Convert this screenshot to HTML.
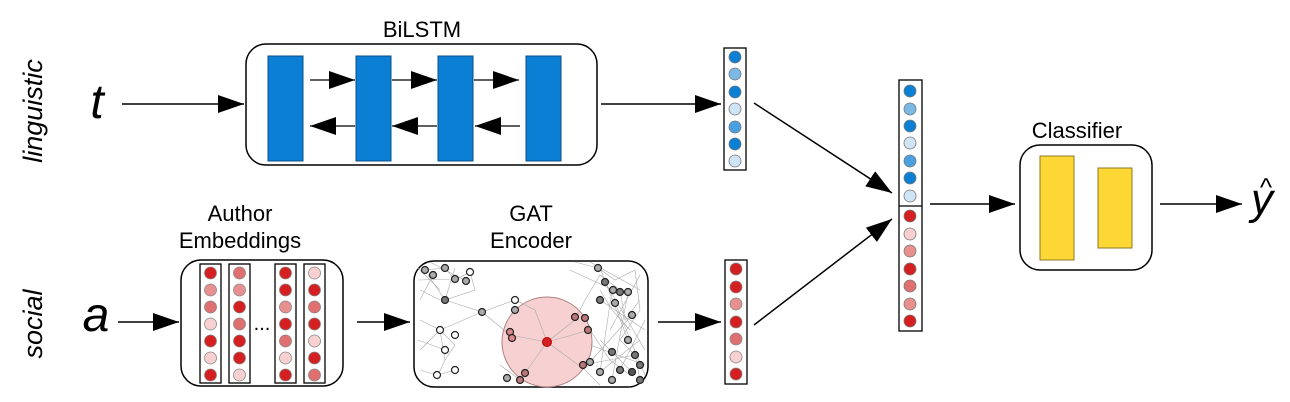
<!DOCTYPE html>
<html><head><meta charset="utf-8"><style>
html,body{margin:0;padding:0;background:#fff}
svg{display:block}
text{font-family:"Liberation Sans",sans-serif}
</style></head><body>
<svg width="1290" height="402" viewBox="0 0 1290 402" xmlns="http://www.w3.org/2000/svg">
<defs>
<marker id="ahb" markerWidth="26" markerHeight="18" refX="26" refY="9" orient="auto" markerUnits="userSpaceOnUse" viewBox="0 0 26 18">
<path d="M0,0 L26,9 L0,18 z" fill="#000"/></marker>
</defs>

<text transform="translate(42,111) rotate(-90)" text-anchor="middle" font-size="27" font-style="italic">linguistic</text>
<text transform="translate(42,324) rotate(-90)" text-anchor="middle" font-size="27" font-style="italic">social</text>
<text x="97" y="118" text-anchor="middle" font-family="Liberation Serif" font-style="italic" font-size="48">t</text>
<text x="96" y="331" text-anchor="middle" font-family="Liberation Serif" font-style="italic" font-size="48">a</text>

<g stroke="#000" stroke-width="1.5" fill="none">
<line x1="122" y1="104" x2="244" y2="104" marker-end="url(#ahb)"/>
<line x1="118" y1="322" x2="179" y2="322" marker-end="url(#ahb)"/>
<line x1="357" y1="322" x2="410" y2="322" marker-end="url(#ahb)"/>
<line x1="601" y1="104" x2="721" y2="104" marker-end="url(#ahb)"/>
<line x1="658" y1="322" x2="721" y2="322" marker-end="url(#ahb)"/>
<line x1="754" y1="103" x2="892" y2="193" marker-end="url(#ahb)"/>
<line x1="754" y1="325" x2="892" y2="219" marker-end="url(#ahb)"/>
<line x1="930" y1="204" x2="1015" y2="204" marker-end="url(#ahb)"/>
<line x1="1160" y1="204" x2="1242" y2="204" marker-end="url(#ahb)"/>
</g>

<text x="422" y="37" text-anchor="middle" font-size="22">BiLSTM</text>
<rect x="246" y="44" width="351" height="121" rx="20" fill="#fff" stroke="#000" stroke-width="1.5"/>
<g fill="#0a7fd4" stroke="#0a4f8a" stroke-width="1">
<rect x="268" y="56" width="35" height="105"/>
<rect x="356" y="56" width="35" height="105"/>
<rect x="438" y="56" width="35" height="105"/>
<rect x="526" y="56" width="35" height="105"/>
</g>
<g stroke="#000" stroke-width="1.3">
<line x1="310" y1="80" x2="355" y2="80" marker-end="url(#ahb)"/>
<line x1="392" y1="80" x2="437" y2="80" marker-end="url(#ahb)"/>
<line x1="474" y1="80" x2="519" y2="80" marker-end="url(#ahb)"/>
<line x1="355" y1="126" x2="310" y2="126" marker-end="url(#ahb)"/>
<line x1="437" y1="126" x2="392" y2="126" marker-end="url(#ahb)"/>
<line x1="520" y1="126" x2="475" y2="126" marker-end="url(#ahb)"/>
</g>

<rect x="724" y="48" width="22" height="122" fill="#fff" stroke="#000" stroke-width="1.3"/>
<g stroke="#777" stroke-width="0.8">
<circle cx="735" cy="57" r="6" fill="#0a7fd4"/>
<circle cx="735" cy="74" r="6" fill="#7ab8e6"/>
<circle cx="735" cy="92" r="6" fill="#0a7fd4"/>
<circle cx="735" cy="109" r="6" fill="#cfe5f6"/>
<circle cx="735" cy="127" r="6" fill="#4a9fe0"/>
<circle cx="735" cy="144" r="6" fill="#0a7fd4"/>
<circle cx="735" cy="161" r="6" fill="#cfe5f6"/>
</g>

<rect x="725" y="260" width="22" height="124" fill="#fff" stroke="#000" stroke-width="1.3"/>
<g stroke="#888" stroke-width="0.8">
<circle cx="736" cy="269" r="6" fill="#d42020"/>
<circle cx="736" cy="287" r="6" fill="#d42020"/>
<circle cx="736" cy="304" r="6" fill="#e89090"/>
<circle cx="736" cy="322" r="6" fill="#d42020"/>
<circle cx="736" cy="339" r="6" fill="#e07070"/>
<circle cx="736" cy="357" r="6" fill="#f8d0d0"/>
<circle cx="736" cy="374" r="6" fill="#d42020"/>
</g>

<rect x="899" y="80" width="23" height="251" fill="#fff" stroke="#000" stroke-width="1.3"/>
<line x1="899" y1="206" x2="922" y2="206" stroke="#000" stroke-width="1.3"/>
<g stroke="#777" stroke-width="0.8">
<circle cx="910" cy="91" r="6" fill="#0a7fd4"/>
<circle cx="910" cy="109" r="6" fill="#7ab8e6"/>
<circle cx="910" cy="126" r="6" fill="#0a7fd4"/>
<circle cx="910" cy="143" r="6" fill="#cfe5f6"/>
<circle cx="910" cy="161" r="6" fill="#4a9fe0"/>
<circle cx="910" cy="178" r="6" fill="#0a7fd4"/>
<circle cx="910" cy="196" r="6" fill="#cfe5f6"/>
<circle cx="910" cy="216" r="6" fill="#d42020"/>
<circle cx="910" cy="234" r="6" fill="#f8d0d0"/>
<circle cx="910" cy="251" r="6" fill="#e89090"/>
<circle cx="910" cy="269" r="6" fill="#d42020"/>
<circle cx="910" cy="286" r="6" fill="#e07070"/>
<circle cx="910" cy="304" r="6" fill="#e89090"/>
<circle cx="910" cy="321" r="6" fill="#d42020"/>
</g>

<text x="1077" y="138" text-anchor="middle" font-size="22">Classifier</text>
<rect x="1020" y="145" width="132" height="125" rx="20" fill="#fff" stroke="#000" stroke-width="1.5"/>
<rect x="1040" y="156" width="34" height="104" fill="#fdd835" stroke="#8a7a20" stroke-width="1"/>
<rect x="1098" y="168" width="34" height="80" fill="#fdd835" stroke="#8a7a20" stroke-width="1"/>
<text x="1262" y="214" text-anchor="middle" font-family="Liberation Serif" font-style="italic" font-size="44">y</text>
<text x="1266" y="196" text-anchor="middle" font-family="Liberation Serif" font-size="26">^</text>

<text x="240" y="221" text-anchor="middle" font-size="22">Author</text>
<text x="240" y="248" text-anchor="middle" font-size="22">Embeddings</text>
<rect x="181" y="260" width="162" height="126" rx="20" fill="#fff" stroke="#000" stroke-width="1.5"/>
<g fill="none" stroke="#000" stroke-width="1.3">
<rect x="200" y="264" width="21" height="119"/>
<rect x="229" y="264" width="21" height="119"/>
<rect x="275" y="264" width="21" height="119"/>
<rect x="304" y="264" width="21" height="119"/>
</g>
<g stroke="#888" stroke-width="0.8">
<circle cx="210.5" cy="273" r="6" fill="#d42020"/><circle cx="210.5" cy="290" r="6" fill="#e89090"/><circle cx="210.5" cy="307" r="6" fill="#e07070"/><circle cx="210.5" cy="324" r="6" fill="#f8d0d0"/><circle cx="210.5" cy="341" r="6" fill="#d42020"/><circle cx="210.5" cy="358" r="6" fill="#f8d0d0"/><circle cx="210.5" cy="375" r="6" fill="#d42020"/>
<circle cx="239.5" cy="273" r="6" fill="#e07070"/><circle cx="239.5" cy="290" r="6" fill="#e89090"/><circle cx="239.5" cy="307" r="6" fill="#d42020"/><circle cx="239.5" cy="324" r="6" fill="#e07070"/><circle cx="239.5" cy="341" r="6" fill="#d42020"/><circle cx="239.5" cy="358" r="6" fill="#d42020"/><circle cx="239.5" cy="375" r="6" fill="#f8d0d0"/>
<circle cx="285.5" cy="273" r="6" fill="#d42020"/><circle cx="285.5" cy="290" r="6" fill="#d42020"/><circle cx="285.5" cy="307" r="6" fill="#e89090"/><circle cx="285.5" cy="324" r="6" fill="#d42020"/><circle cx="285.5" cy="341" r="6" fill="#e07070"/><circle cx="285.5" cy="358" r="6" fill="#f8d0d0"/><circle cx="285.5" cy="375" r="6" fill="#d42020"/>
<circle cx="314.5" cy="273" r="6" fill="#f8d0d0"/><circle cx="314.5" cy="290" r="6" fill="#d42020"/><circle cx="314.5" cy="307" r="6" fill="#e07070"/><circle cx="314.5" cy="324" r="6" fill="#d42020"/><circle cx="314.5" cy="341" r="6" fill="#f8d0d0"/><circle cx="314.5" cy="358" r="6" fill="#d42020"/><circle cx="314.5" cy="375" r="6" fill="#e07070"/>
</g>
<text x="262" y="330" text-anchor="middle" font-size="20">...</text>

<text x="531" y="221" text-anchor="middle" font-size="22">GAT</text>
<text x="531" y="248" text-anchor="middle" font-size="22">Encoder</text>
<rect x="414" y="261" width="234" height="126" rx="20" fill="#fff" stroke="#000" stroke-width="1.5"/>
<circle cx="547" cy="342" r="45" fill="#f5c6c6" stroke="#b08080" stroke-width="1" fill-opacity="0.8"/>
<g stroke="#aaa" stroke-width="0.6" fill="none">
<path d="M425,270 L445,268 L455,280 L470,272 L475,290 L445,300 L428,275 M445,300 L482,312 L515,300 L535,310 L547,342 L510,335 L482,312 M547,342 L575,320 L585,300 L600,275 L620,290 L625,320 L640,300 M547,342 L590,330 L610,360 L630,375 M547,342 L520,380 L500,365 M547,342 L585,370 L600,385 M482,312 L440,330 L445,360 L438,375 L455,370 M440,330 L455,345 L445,360 M598,268 L615,280 L635,270 L640,310 L620,340 L635,355 L640,380 M600,290 L612,310 L630,330 M420,290 L440,300 M420,350 L440,330"/>
<path d="M418,268 L440,290 M418,280 L455,279 M420,300 L433,275 M430,262 L466,281 M455,268 L445,300 M590,262 L640,290 M600,300 L645,330 M605,282 L645,350 M612,290 L600,372 M628,292 L612,380 M615,303 L645,375 M632,315 L590,362 M628,340 L600,268 M635,355 L583,365 M620,370 L645,320 M600,372 L640,340 M575,262 L598,268 M570,270 L613,290 M610,330 L640,275 M590,345 L645,365 M600,340 L632,372 M420,320 L440,330 M420,370 L437,375 M418,340 L445,350"/>
</g>
<g stroke="#222" stroke-width="1.2">
<circle cx="425" cy="270" r="3.5" fill="#aaa"/><circle cx="433" cy="275" r="3.5" fill="#aaa"/><circle cx="445" cy="268" r="3.5" fill="#aaa"/><circle cx="455" cy="279" r="3.5" fill="#aaa"/><circle cx="470" cy="272" r="3.5" fill="#fff"/><circle cx="466" cy="281" r="3.5" fill="#aaa"/><circle cx="445" cy="300" r="3.5" fill="#777"/><circle cx="482" cy="312" r="3.5" fill="#aaa"/><circle cx="515" cy="300" r="3.5" fill="#fff"/><circle cx="515" cy="310" r="3.5" fill="#aaa"/><circle cx="440" cy="330" r="3.5" fill="#fff"/><circle cx="455" cy="335" r="3.5" fill="#fff"/><circle cx="445" cy="350" r="3.5" fill="#fff"/><circle cx="455" cy="370" r="3.5" fill="#fff"/><circle cx="437" cy="375" r="3.5" fill="#fff"/><circle cx="510" cy="332" r="3.5" fill="#d88"/><circle cx="512" cy="338" r="3.5" fill="#d88"/><circle cx="575" cy="317" r="3.5" fill="#b77"/><circle cx="585" cy="318" r="3.5" fill="#b77"/><circle cx="588" cy="330" r="3.5" fill="#b77"/><circle cx="583" cy="365" r="3.5" fill="#b77"/><circle cx="590" cy="362" r="3.5" fill="#aaa"/><circle cx="525" cy="373" r="3.5" fill="#b77"/><circle cx="520" cy="380" r="3.5" fill="#b77"/><circle cx="598" cy="268" r="3.5" fill="#aaa"/><circle cx="605" cy="282" r="3.5" fill="#777"/><circle cx="613" cy="290" r="3.5" fill="#aaa"/><circle cx="620" cy="292" r="3.5" fill="#777"/><circle cx="628" cy="292" r="3.5" fill="#aaa"/><circle cx="600" cy="300" r="3.5" fill="#777"/><circle cx="615" cy="303" r="3.5" fill="#aaa"/><circle cx="632" cy="315" r="3.5" fill="#aaa"/><circle cx="628" cy="340" r="3.5" fill="#aaa"/><circle cx="635" cy="355" r="3.5" fill="#777"/><circle cx="612" cy="352" r="3.5" fill="#777"/><circle cx="600" cy="372" r="3.5" fill="#aaa"/><circle cx="620" cy="370" r="3.5" fill="#777"/><circle cx="632" cy="372" r="3.5" fill="#555"/><circle cx="640" cy="365" r="3.5" fill="#777"/><circle cx="612" cy="380" r="3.5" fill="#aaa"/><circle cx="640" cy="380" r="3.5" fill="#777"/><circle cx="507" cy="378" r="3.5" fill="#aaa"/>
</g>
<circle cx="547" cy="342" r="4.5" fill="#d42020" stroke="#b00" stroke-width="1"/>
</svg>
</body></html>
